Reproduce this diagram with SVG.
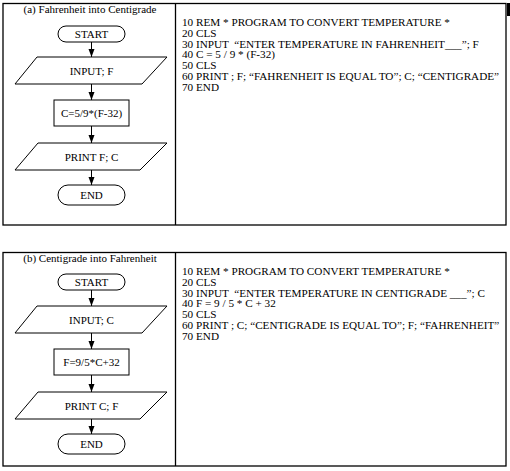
<svg xmlns="http://www.w3.org/2000/svg" width="510" height="471" viewBox="0 0 510 471" font-family="'Liberation Serif', 'Times New Roman', serif" font-size="11">
<style>
text{font-family:"Liberation Serif","Times New Roman",serif;font-size:11px;fill:#000}
.code text{font-size:11.2px}
.c{text-anchor:middle}
.frame{fill:none;stroke:#000;stroke-width:1.3}
.shape{fill:#fff;stroke:#000;stroke-width:1}
.conn{stroke:#000;stroke-width:1;fill:none;marker-end:url(#ah)}
</style>
<defs>
<marker id="ah" viewBox="0 0 8 8" refX="8" refY="4" markerWidth="8" markerHeight="8" markerUnits="userSpaceOnUse" orient="auto">
<path d="M0,1 L8,4 L0,7 Z" fill="#000"/>
</marker>
</defs>
<rect width="510" height="471" fill="#fff"/>

<!-- table a -->
<g id="table-a">
<rect class="frame" x="3" y="3.5" width="503" height="221.5"/>
<line class="frame" x1="175.5" y1="3.5" x2="175.5" y2="225"/>
<rect x="507" y="3" width="3" height="13" fill="#000"/>
<text class="c" x="90" y="13">(a) Fahrenheit into Centigrade</text>
</g>
<g id="code-a" class="code">
<text x="182" y="26">10 REM * PROGRAM TO CONVERT TEMPERATURE *</text>
<text x="182" y="36.8">20 CLS</text>
<text x="182" y="47.6">30 INPUT &#160;“ENTER TEMPERATURE IN FAHRENHEIT___”; F</text>
<text x="182" y="58.4">40 C = 5 / 9 * (F-32)</text>
<text x="182" y="69.2">50 CLS</text>
<text x="182" y="80">60 PRINT ; F; “FAHRENHEIT IS EQUAL TO”; C; “CENTIGRADE”</text>
<text x="182" y="90.8">70 END</text>
</g>
<g id="a-start"><rect class="shape" x="58" y="26" width="67" height="16" rx="8"/><text class="c" x="91.5" y="38">START</text></g>
<g id="a-input"><path class="shape" d="M37,57 H167 L142,84 H15 Z"/><text class="c" x="91.5" y="74.5">INPUT; F</text></g>
<g id="a-calc"><rect class="shape" x="54" y="100" width="75" height="26"/><text class="c" x="91.5" y="117">C=5/9*(F-32)</text></g>
<g id="a-print"><path class="shape" d="M38,143 H167 L140,170 H15 Z"/><text class="c" x="91.5" y="160.5">PRINT F; C</text></g>
<g id="a-end"><rect class="shape" x="58" y="185" width="67" height="20" rx="10"/><text class="c" x="91.5" y="199">END</text></g>

<!-- table b -->
<g id="table-b">
<rect class="frame" x="3" y="252.5" width="503" height="213.5"/>
<line class="frame" x1="175.5" y1="252.5" x2="175.5" y2="466"/>
<text class="c" x="90" y="262">(b) Centigrade into Fahrenheit</text>
</g>
<g id="code-b" class="code">
<text x="182" y="275">10 REM * PROGRAM TO CONVERT TEMPERATURE *</text>
<text x="182" y="285.8">20 CLS</text>
<text x="182" y="296.6">30 INPUT &#160;“ENTER TEMPERATURE IN CENTIGRADE ___”; C</text>
<text x="182" y="307.4">40 F = 9 / 5 * C + 32</text>
<text x="182" y="318.2">50 CLS</text>
<text x="182" y="329">60 PRINT ; C; “CENTIGRADE IS EQUAL TO”; F; “FAHRENHEIT”</text>
<text x="182" y="339.8">70 END</text>
</g>
<g id="b-start"><rect class="shape" x="58" y="274" width="67" height="16" rx="8"/><text class="c" x="91.5" y="286">START</text></g>
<g id="b-input"><path class="shape" d="M37,306 H167 L142,333 H15 Z"/><text class="c" x="91.5" y="323.5">INPUT; C</text></g>
<g id="b-calc"><rect class="shape" x="54" y="349" width="75" height="26"/><text class="c" x="91.5" y="366">F=9/5*C+32</text></g>
<g id="b-print"><path class="shape" d="M38,392 H167 L140,419 H15 Z"/><text class="c" x="91.5" y="409.5">PRINT C; F</text></g>
<g id="b-end"><rect class="shape" x="58" y="434" width="67" height="20" rx="10"/><text class="c" x="91.5" y="448">END</text></g>

<g id="connectors">
<line class="conn" x1="91.5" y1="42" x2="91.5" y2="57"/>
<line class="conn" x1="91.5" y1="84" x2="91.5" y2="100"/>
<line class="conn" x1="91.5" y1="126" x2="91.5" y2="143"/>
<line class="conn" x1="91.5" y1="170" x2="91.5" y2="185"/>
<line class="conn" x1="91.5" y1="290" x2="91.5" y2="306"/>
<line class="conn" x1="91.5" y1="333" x2="91.5" y2="349"/>
<line class="conn" x1="91.5" y1="375" x2="91.5" y2="392"/>
<line class="conn" x1="91.5" y1="419" x2="91.5" y2="434"/>
</g>
</svg>
